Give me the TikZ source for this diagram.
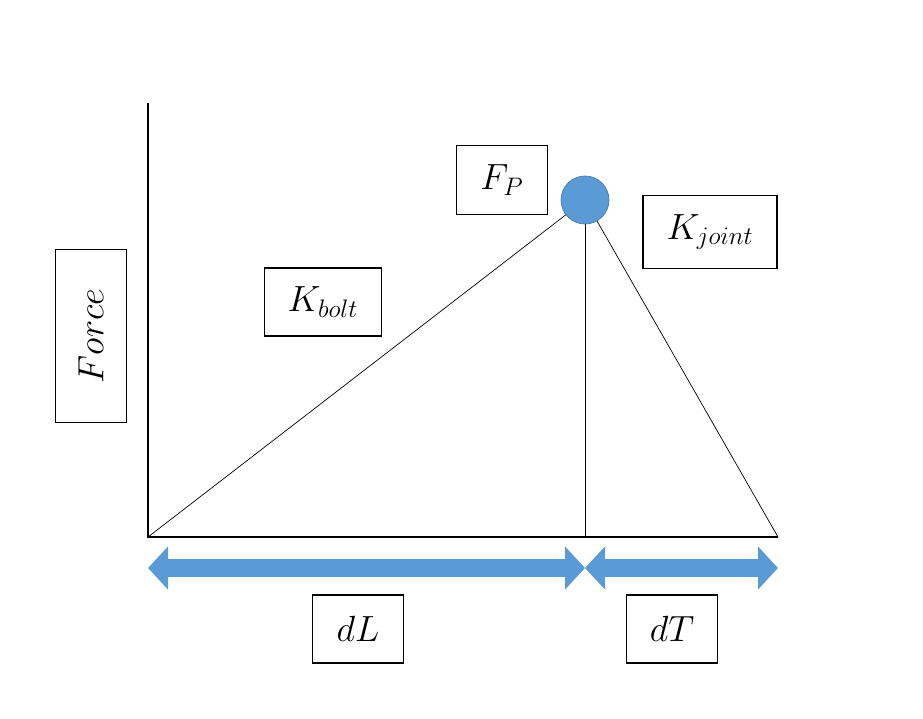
\documentclass[tikz,border=0pt]{standalone}
\usepackage{amsmath}
\usetikzlibrary{arrows.meta}
\definecolor{ptblue}{RGB}{91,155,213}
\begin{document}
\begin{tikzpicture}[x=0.02cm,y=-0.02cm,
  lbl/.style={draw,thick,fill=white,font=\fontsize{22}{26}\selectfont,inner sep=0pt},
  dimarrow/.style={ptblue,line width=18*0.02cm,{Triangle[width=42*0.02cm,length=20*0.02cm]}-{Triangle[width=42*0.02cm,length=20*0.02cm]},shorten <=0pt,shorten >=0pt}]
\useasboundingbox (0,0) rectangle (923,718);

%axes
\coordinate (O) at (148,537);
\coordinate (top) at (148,103);
\coordinate (xend) at (778,537);
\coordinate (foot) at (585,537);
\coordinate (P) at (585,200);
\draw[thick] (top) -- (O) -- (xend);

%force lines
\draw (O) -- (P);
\draw (P) -- (xend);
\draw (P) -- (foot);
\node[circle,fill=ptblue,draw=ptblue!80!black,minimum size=48*0.02cm,inner sep=0pt] (peak) at (P) {};

%dimension arrows
\coordinate (a1) at (148,568);
\coordinate (a2) at (585,568);
\coordinate (a3) at (778,568);
\draw[dimarrow] (a1) -- (a2);
\draw[dimarrow] (a2) -- (a3);

%labels
\node[lbl,minimum width=173*0.02cm,minimum height=71*0.02cm,rotate=90] (force) at (91,336) {$Force$};
\node[lbl,minimum width=117*0.02cm,minimum height=68*0.02cm] (kbolt) at (323,302) {$K_{bolt}$};
\node[lbl,minimum width=91*0.02cm,minimum height=69*0.02cm] (fp) at (502,180) {$F_P$};
\node[lbl,minimum width=134*0.02cm,minimum height=73*0.02cm] (kjoint) at (710,232) {$K_{joint}$};
\node[lbl,minimum width=91*0.02cm,minimum height=68*0.02cm] (dl) at (358,629) {$dL$};
\node[lbl,minimum width=91*0.02cm,minimum height=68*0.02cm] (dt) at (672,629) {$dT$};
\end{tikzpicture}
\end{document}
